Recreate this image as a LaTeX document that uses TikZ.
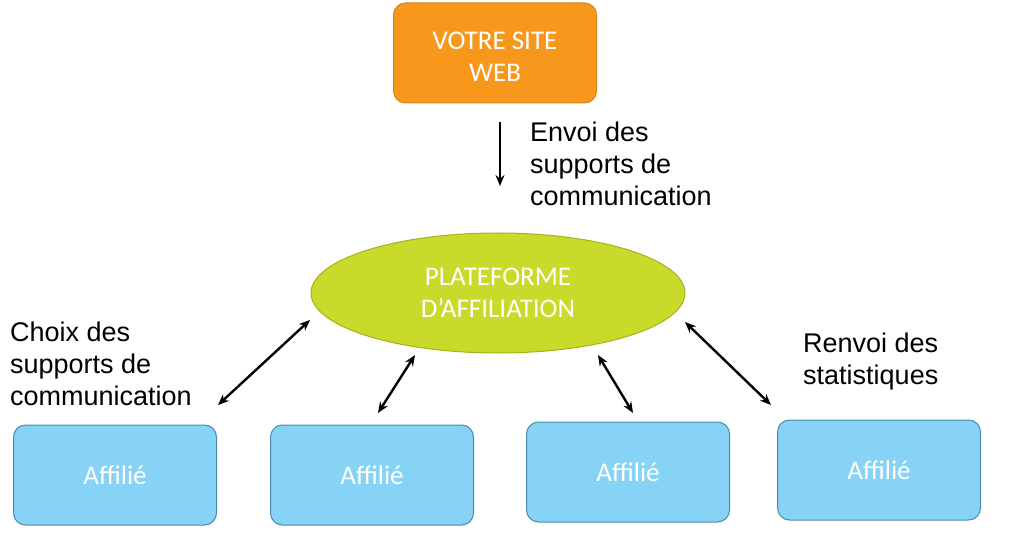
\documentclass[tikz,border=0pt]{standalone}
\usepackage{fontspec}
\setmainfont{Liberation Sans}
\newfontfamily\boxfont{Carlito}
\usetikzlibrary{arrows.meta,shapes.geometric}
\definecolor{orangef}{HTML}{F7981D}
\definecolor{oranged}{HTML}{D9801A}
\definecolor{greenf}{HTML}{C9DA2A}
\definecolor{greend}{HTML}{A3B21F}
\definecolor{bluef}{HTML}{87D3F5}
\definecolor{blued}{HTML}{4A8AB0}
\begin{document}
\begin{tikzpicture}[x=1pt,y=-1pt,
  boxtxt/.style={text=white,font=\boxfont\fontsize{27}{32}\selectfont,align=center},
  rbox/.style={boxtxt,rounded corners=12pt,minimum width=203pt,minimum height=100pt,line width=1pt},
  lbl/.style={font=\fontsize{27}{32}\selectfont,align=left,anchor=north west,inner sep=0pt},
  arr/.style={-{Stealth[length=11pt,width=9pt]},line width=2.4pt},
  darr/.style={{Stealth[length=11pt,width=9pt]}-{Stealth[length=11pt,width=9pt]},line width=2.4pt}]
\useasboundingbox (0,0) rectangle (1024,534);
\node[rbox,fill=orangef,draw=oranged] (web) at (495,53) {};
\node[boxtxt] (webt) at (495,57) {VOTRE SITE\\WEB};
\node[ellipse,boxtxt,fill=greenf,draw=greend,line width=1pt,minimum width=374pt,minimum height=120pt,inner sep=0pt] (pf) at (498,293) {PLATEFORME\\D’AFFILIATION};
\node[rbox,fill=bluef,draw=blued] (a1) at (115,475) {Affilié};
\node[rbox,fill=bluef,draw=blued] (a2) at (372,475) {Affilié};
\node[rbox,fill=bluef,draw=blued] (a3) at (628,472) {Affilié};
\node[rbox,fill=bluef,draw=blued] (a4) at (879,470) {Affilié};
\coordinate (t1) at (500,122); \coordinate (t2) at (500,186);
\draw[arr] (t1) -- (t2);
\coordinate (p1) at (218,405); \coordinate (q1) at (310,320);
\coordinate (p2) at (378,413); \coordinate (q2) at (415,355);
\coordinate (p3) at (633,413); \coordinate (q3) at (598,355);
\coordinate (p4) at (771,405); \coordinate (q4) at (685,322);
\foreach \i in {1,2,3,4} \draw[darr] (p\i) -- (q\i);
\node[lbl] (l0) at (530,122) {Envoi des\\supports de\\communication};
\node[lbl] (l1) at (10,322) {Choix des\\supports de\\communication};
\node[lbl] (l2) at (803,333) {Renvoi des\\statistiques};
\end{tikzpicture}
\end{document}
